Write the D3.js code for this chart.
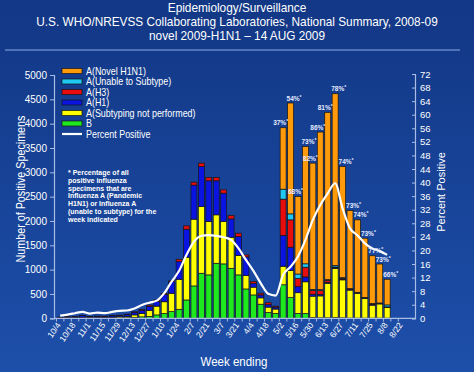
<!DOCTYPE html>
<html>
<head>
<meta charset="utf-8">
<script src="https://cdn.jsdelivr.net/npm/d3@7"></script>
<style>
body { margin: 0; background: #1a4699; }
svg { display: block; font-family: "Liberation Sans", Arial, sans-serif; }
</style>
</head>
<body>
<svg width="474" height="372"></svg>
<script>
// week ending dates, 10/4/2008 .. 8/22/2009
var weeks = ["10/4","10/11","10/18","10/25","11/1","11/8","11/15","11/22","11/29","12/6",
    "12/13","12/20","12/27","1/3","1/10","1/17","1/24","1/31","2/7","2/14",
    "2/21","2/28","3/7","3/14","3/21","3/28","4/4","4/11","4/18","4/25",
    "5/2","5/9","5/16","5/23","5/30","6/6","6/13","6/20","6/27","7/4",
    "7/11","7/18","7/25","8/1","8/8","8/15","8/22"];
var tickLabels = ["10/4","10/18","11/1","11/15","11/29","12/13","12/27","1/10","1/24","2/7",
    "2/21","3/7","3/21","4/4","4/18","5/2","5/16","5/30","6/13","6/27","7/11","7/25","8/8","8/22"];

// positive specimens per week (weeks 10/4 .. 8/8)
var typeB = [5,5,5,5,5,5,5,5,5,10, 20,30,40,70,100,137,185,377,665,926,
    892,1131,1118,1028,892,603,480,290,120,100, 689,425,101,100,15,10,10,15,10,5,5,5,5,5,5];
var notSubtyped = [5,8,10,15,10,10,10,15,25,30, 50,70,120,180,240,377,617,878,1372,1372,
    1098,995,872,638,398,274,160,130,110,90, 381,556,425,650,440,450,710,1010,780,575,510,405,265,290,220];
var h1 = [10,15,20,35,10,25,25,30,30,40, 55,65,85,100,150,240,364,576,700,823,
    836,700,581,377,390,385,80,60,50,40, 631,480,124,100,40,30,20,15,15,15,10,10,20,10,5];
var h3 = [2,2,3,5,12,5,5,5,5,5, 7,15,25,25,20,15,47,68,60,68,
    68,68,69,69,69,40,35,35,40,20, 748,562,171,200,80,80,40,15,20,10,5,5,10,5,5];
var unableSubtype = [0,0,0,0,0,0,0,0,0,0, 0,0,0,0,0,0,0,0,0,0,
    0,0,0,0,0,0,0,0,0,0, 205,123,89,70,20,20,15,30,10,5,5,5,5,5,40];
var novelH1N1 = [0,0,0,0,0,0,0,0,0,0, 0,0,0,0,0,0,0,0,0,0,
    0,0,0,0,0,0,0,0,0,0, 1262,2278,1592,2410,2594,3237,3436,3530,2285,1604,1488,1216,980,800,527];
var pctPositive = [0.8,1.1,1.5,1.9,1.4,1.7,1.5,1.9,2.2,2.3, 2.9,3.9,4.6,5.2,7.4,10.8,14,18.7,22.6,24.3,
    24.5,24.3,23.9,23.1,20.6,17.2,14.0,10.3,7.2,6.7, 12.8,15.2,18.2,23.1,29.0,33.4,36.8,39.8,32.4,26.5,
    24.5,22.1,20.6,19.8,18.7];
// share that is novel H1N1 / unable to subtype, weeks 5/2 .. 8/8
var pandemicPct = ["37%","54%","68%","73%","82%","86%","81%","78%","74%","73%","74%","73%","77%","73%","66%"];
var pandemicStart = 30;

var legendNames = ["A(Novel H1N1)","A(Unable to Subtype)","A(H3)","A(H1)","A(Subtyping not performed)","B"];
var colors = ["#ff9a0a","#1ec8f0","#e80c0c","#0a14e0","#ffff00","#1ee81e"];
var keys = ["novel","unable","h3","h1","nosub","b"];

var svg = d3.select("svg");

var grad = svg.append("defs").append("linearGradient")
    .attr("id", "bg").attr("x1", 0).attr("y1", 0).attr("x2", 0).attr("y2", 1);
grad.append("stop").attr("offset", "0%").attr("stop-color", "#123785");
grad.append("stop").attr("offset", "100%").attr("stop-color", "#1d4faa");
svg.append("rect").attr("width", 474).attr("height", 372).attr("fill", "url(#bg)");

// title (source text is a bit condensed)
var titleLines = ["Epidemiology/Surveillance",
    "U.S. WHO/NREVSS Collaborating Laboratories, National Summary, 2008-09",
    "novel 2009-H1N1 \u2013 14 AUG 2009"];
svg.selectAll(".title").data(titleLines).enter().append("text")
    .attr("transform", function(d, i) { return "translate(237," + (11.5 + i * 14.2) + ") scale(0.91,1)"; })
    .attr("text-anchor", "middle").attr("fill", "#fff").attr("font-size", 13)
    .text(function(d) { return d; });
svg.append("line").attr("x1", 5).attr("x2", 460).attr("y1", 50).attr("y2", 50)
    .attr("stroke", "#8cabe6").attr("stroke-width", 1);

var x = d3.scaleBand().domain(weeks).range([57.2, 405]).paddingInner(0.2).paddingOuter(0);
var y = d3.scaleLinear().domain([0, 5000]).range([318.3, 75]);
var y2 = d3.scaleLinear().domain([0, 72]).range([318.3, 74]);
var bw = x.bandwidth();
var axisColor = "#a8bce6";

var table = typeB.map(function(v, i) {
    return { week: weeks[i], b: v, nosub: notSubtyped[i], h1: h1[i], h3: h3[i],
        unable: unableSubtype[i], novel: novelH1N1[i] };
});
var stack = d3.stack().keys(keys.slice().reverse())(table);

var layers = svg.append("g").selectAll("g").data(stack).enter().append("g")
    .attr("fill", function(d) { return colors[keys.indexOf(d.key)]; });
layers.selectAll("rect").data(function(d) { return d; }).enter()
    .filter(function(d) { return d[1] > d[0]; })
    .append("rect")
    .attr("x", function(d) { return x(d.data.week); })
    .attr("width", bw)
    .attr("y", function(d) { return y(d[1]); })
    .attr("height", function(d) { return y(d[0]) - y(d[1]); })
    .attr("stroke", "#161616").attr("stroke-width", 0.7);

// axes
var gl = svg.append("g").attr("transform", "translate(54,0)")
    .call(d3.axisLeft(y).tickValues(d3.range(0, 5001, 500)).tickFormat(d3.format("d")).tickSize(4).tickPadding(3));
var gr = svg.append("g").attr("transform", "translate(415,0)")
    .call(d3.axisRight(y2).tickValues(d3.range(0, 73, 4)).tickSize(-3).tickPadding(5));
[gl, gr].forEach(function(g) {
    g.select(".domain").attr("stroke", axisColor).attr("stroke-width", 1.2);
    g.selectAll(".tick line").attr("stroke", axisColor);
    g.selectAll(".tick text").attr("fill", "#fff").attr("font-family", "Liberation Sans, Arial, sans-serif");
});
gl.selectAll(".tick text").attr("font-size", 10);
gr.selectAll(".tick text").attr("font-size", 9.5);

svg.append("line").attr("x1", 54).attr("x2", 415).attr("y1", 318.3).attr("y2", 318.3)
    .attr("stroke", axisColor).attr("stroke-width", 1.2);
svg.append("g").selectAll("line").data(weeks).enter().append("line")
    .attr("x1", function(d) { return x(d) - x.step() * 0.1; })
    .attr("x2", function(d) { return x(d) - x.step() * 0.1; })
    .attr("y1", 318.3).attr("y2", 321.5).attr("stroke", axisColor);
svg.append("g").selectAll("text").data(tickLabels).enter().append("text")
    .attr("transform", function(d) { return "translate(" + (x(d) + bw / 2 + 1) + ",325) rotate(-55)"; })
    .attr("text-anchor", "end").attr("fill", "#fff").attr("font-size", 8.5)
    .text(function(d) { return d; });

svg.append("text").attr("transform", "translate(234,366) scale(0.92,1)").attr("text-anchor", "middle")
    .attr("fill", "#fff").attr("font-size", 12.5).text("Week ending");
svg.append("text").attr("transform", "translate(24.5,189) rotate(-90) scale(0.86,1)")
    .attr("text-anchor", "middle").attr("fill", "#fff").attr("font-size", 12.5)
    .text("Number of Positive Specimens");
svg.append("text").attr("transform", "translate(445,192) rotate(-90)")
    .attr("text-anchor", "middle").attr("fill", "#fff").attr("font-size", 11)
    .text("Percent Positive");

// percent positive line
var line = d3.line()
    .x(function(d, i) { return x(weeks[i]) + bw / 2; })
    .y(function(d) { return y2(d); })
    .curve(d3.curveMonotoneX);
svg.append("path").datum(pctPositive).attr("d", line)
    .attr("fill", "none").attr("stroke", "#fff").attr("stroke-width", 2.2);

// pandemic share labels
function total(i) { return typeB[i] + notSubtyped[i] + h1[i] + h3[i] + unableSubtype[i] + novelH1N1[i]; }
svg.append("g").selectAll("text").data(pandemicPct).enter().append("text")
    .attr("fill", "#e4ebff").attr("font-size", 6.5).attr("font-weight", "bold")
    .each(function(d, k) {
        var i = pandemicStart + k;
        var top = y(total(i));
        var nextTaller = i + 1 < typeB.length && y(total(i + 1)) < top - 2;
        var t = d3.select(this)
            .attr("x", nextTaller ? x(weeks[i]) + bw + 2 : x(weeks[i]) - 1)
            .attr("y", top - 2.5)
            .attr("text-anchor", nextTaller ? "end" : "start");
        t.append("tspan").text(d);
        t.append("tspan").attr("font-size", 5).attr("dy", -2).text("*");
    });

// note
var note = ["* Percentage of all", "positive influenza", "specimens that are", "Influenza A (Pandemic",
    "H1N1) or Influenza A", "(unable to subtype) for the", "week indicated"];
svg.append("g").selectAll("text").data(note).enter().append("text")
    .attr("x", 68).attr("y", function(d, i) { return 175 + i * 7.8; })
    .attr("fill", "#fff").attr("font-size", 7).attr("font-weight", "bold")
    .text(function(d) { return d; });

// legend
var leg = svg.append("g").attr("transform", "translate(62,71)");
legendNames.forEach(function(name, i) {
    leg.append("rect").attr("x", 0).attr("y", i * 10.5 - 2.5).attr("width", 20).attr("height", 5)
        .attr("fill", colors[i]).attr("stroke", "#161616").attr("stroke-width", 0.7);
    leg.append("text").attr("transform", "translate(24," + (i * 10.5 + 3.8) + ") scale(0.85,1)")
        .attr("fill", "#fff").attr("font-size", 10.5).text(name);
});
leg.append("line").attr("x1", 0).attr("x2", 20).attr("y1", 63).attr("y2", 63)
    .attr("stroke", "#fff").attr("stroke-width", 2.2);
leg.append("text").attr("transform", "translate(24,66.8) scale(0.85,1)")
    .attr("fill", "#fff").attr("font-size", 10.5).text("Percent Positive");
</script>
</body>
</html>
